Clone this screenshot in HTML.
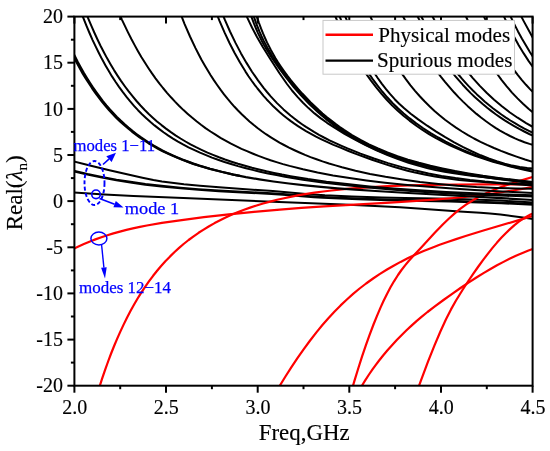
<!DOCTYPE html><html><head><meta charset="utf-8"><style>html,body{margin:0;padding:0;background:#fff;}svg{display:block;}</style></head><body>
<svg width="550" height="451" viewBox="0 0 550 451">
<defs><clipPath id="pc"><rect x="74.4" y="16.6" width="458.2" height="369.1"/></clipPath></defs>
<rect width="550" height="451" fill="#fff"/>
<g clip-path="url(#pc)" fill="none" stroke-linejoin="round">
<path d="M72.4,192.4 L104.4,194.5 L133.4,196.0 L183.4,198.0 L266.4,201.5 L343.4,204.6 L374.9,206.0 L399.9,207.3 L421.4,208.7 L459.4,211.4 L480.4,212.7 L489.9,213.5 L500.4,214.5 L511.4,215.9 L522.9,217.5 L534.4,219.3" stroke="#000" stroke-width="2"/>
<path d="M72.4,170.8 L87.4,174.3 L101.9,177.3 L116.4,180.0 L130.4,182.2 L145.4,184.3 L161.4,186.1 L180.4,188.0 L198.4,189.5 L218.9,190.8 L271.4,193.6 L282.9,194.4 L313.9,196.8 L322.9,197.4 L333.9,197.9 L358.4,198.9 L387.9,199.8 L407.9,200.3 L449.9,201.2 L471.4,201.8 L501.4,202.9 L534.4,204.4" stroke="#000" stroke-width="2.7"/>
<path d="M72.4,161.0 L90.9,165.8 L109.4,170.3 L142.4,177.7 L153.4,180.0 L161.9,181.5 L171.9,182.8 L183.9,184.2 L199.9,185.7 L222.4,187.5 L272.9,191.1 L308.9,194.2 L324.9,195.3 L351.9,196.5 L381.9,197.5 L404.9,198.0 L450.9,198.8 L471.9,199.4 L485.9,199.9 L500.9,200.6 L534.4,202.6" stroke="#000" stroke-width="2"/>
<path d="M72.4,249.4 L77.9,246.7 L83.9,244.0 L89.4,241.7 L95.4,239.4 L101.4,237.3 L107.4,235.3 L113.4,233.4 L119.9,231.6 L126.4,229.9 L132.9,228.4 L139.9,226.9 L146.9,225.5 L161.9,222.9 L179.9,220.3 L203.9,217.2 L228.9,214.3 L253.9,211.8 L279.9,209.6 L301.4,207.9 L323.9,206.4 L389.9,202.7 L412.9,201.2 L434.4,199.7 L453.9,198.0 L464.9,196.9 L475.9,195.7 L486.4,194.4 L496.4,193.0 L506.4,191.5 L515.9,190.0 L525.4,188.3 L534.4,186.5" stroke="#f00" stroke-width="2.2"/>
<path d="M93.6,406.4 L96.1,397.8 L99.1,388.0 L102.1,378.7 L105.1,369.8 L108.1,361.5 L111.1,353.5 L114.1,346.0 L117.1,338.9 L120.1,332.1 L123.6,324.6 L127.1,317.5 L130.6,310.8 L134.1,304.5 L137.6,298.5 L141.1,292.9 L145.1,286.8 L149.1,281.2 L153.1,275.8 L157.1,270.8 L161.1,266.0 L165.6,261.0 L170.1,256.4 L174.6,252.0 L179.1,247.9 L183.6,244.0 L188.6,240.0 L193.6,236.3 L198.6,232.8 L203.6,229.6 L209.1,226.2 L214.6,223.1 L220.6,220.0 L226.1,217.3 L232.1,214.6 L238.1,212.1 L244.1,209.8 L250.1,207.6 L256.6,205.5 L263.1,203.5 L270.1,201.6 L277.1,199.8 L284.1,198.2 L291.6,196.6 L299.1,195.2 L306.6,193.9 L314.6,192.7 L323.1,191.5 L331.6,190.5 L349.1,188.7 L367.6,187.3 L387.6,186.2 L409.6,185.4 L432.6,184.9 L458.6,184.5 L487.6,184.4 L534.6,184.4" stroke="#f00" stroke-width="2.2"/>
<path d="M347.0,406.8 L350.5,394.3 L354.5,380.6 L358.0,369.2 L362.0,356.7 L366.0,344.9 L369.5,335.1 L373.5,324.5 L377.0,315.8 L380.5,307.6 L383.5,301.0 L387.0,293.9 L390.5,287.3 L394.0,281.3 L398.0,275.0 L401.5,270.0 L405.5,264.9 L408.5,261.3 L412.5,256.8 L421.5,247.2 L435.0,232.5 L443.0,224.2 L449.0,218.5 L455.0,213.1 L460.5,208.7 L466.0,204.7 L472.5,200.5 L479.0,196.8 L486.0,193.3 L493.0,190.2 L500.5,187.3 L508.5,184.5 L516.5,181.9 L534.5,176.4" stroke="#f00" stroke-width="2.2"/>
<path d="M273.6,396.3 L279.6,386.0 L285.6,376.2 L291.6,366.8 L297.6,357.8 L303.6,349.3 L310.1,340.5 L316.6,332.1 L322.6,324.8 L328.6,318.0 L334.6,311.5 L340.6,305.4 L346.6,299.7 L353.1,293.9 L359.6,288.5 L366.1,283.5 L373.1,278.5 L379.6,274.1 L386.6,269.8 L393.6,265.7 L400.6,261.9 L408.1,258.1 L415.6,254.6 L423.6,251.1 L432.1,247.7 L439.6,244.8 L447.6,242.0 L456.1,239.1 L465.6,236.0 L482.6,230.8 L519.6,219.9 L534.6,215.3" stroke="#f00" stroke-width="2.2"/>
<path d="M413.0,402.5 L421.0,380.3 L428.0,361.7 L434.5,345.4 L440.5,331.2 L446.0,319.3 L451.0,309.4 L456.0,300.5 L462.5,290.0 L468.0,281.5 L473.0,274.1 L478.0,267.0 L483.0,260.1 L488.0,253.6 L492.5,247.9 L497.0,242.6 L501.5,237.6 L506.0,233.0 L510.0,229.1 L514.5,225.1 L518.5,221.9 L522.5,219.1 L526.5,216.6 L530.5,214.4 L534.5,212.7" stroke="#f00" stroke-width="2.2"/>
<path d="M356.0,396.4 L359.0,390.9 L362.5,384.8 L365.5,379.9 L369.0,374.5 L372.5,369.4 L376.0,364.6 L379.5,360.0 L383.5,355.0 L387.5,350.3 L392.0,345.2 L397.0,339.8 L402.0,334.7 L406.5,330.3 L411.5,325.6 L416.5,321.1 L421.5,316.9 L427.5,312.0 L434.5,306.7 L443.5,300.0 L452.5,293.6 L460.5,288.0 L468.5,282.6 L476.0,277.8 L483.5,273.1 L490.5,269.0 L497.0,265.3 L503.5,261.9 L510.0,258.6 L516.5,255.5 L522.5,252.9 L528.5,250.5 L534.5,248.3" stroke="#f00" stroke-width="2.2"/>
<path d="M72.4,51.2 L77.9,62.2 L80.9,67.7 L83.9,73.0 L86.9,78.0 L89.9,82.8 L92.9,87.4 L96.4,92.4 L99.4,96.5 L102.9,101.1 L106.4,105.4 L109.9,109.5 L113.4,113.3 L116.9,117.0 L120.4,120.4 L124.4,124.1 L128.4,127.6 L132.4,130.9 L136.4,134.0 L140.4,137.0 L144.4,139.7 L148.9,142.6 L153.4,145.4 L157.9,148.0 L162.4,150.4 L167.4,152.9 L172.4,155.2 L177.4,157.4 L182.4,159.5 L187.9,161.6 L193.4,163.6 L199.4,165.6 L209.9,168.8 L221.4,171.8 L233.4,174.6 L245.9,177.1 L259.4,179.4 L273.4,181.5 L288.9,183.5 L305.4,185.4 L320.9,186.9 L337.4,188.3 L355.4,189.6 L375.4,191.0 L408.4,193.0 L492.4,197.7 L534.4,200.1" stroke="#000" stroke-width="2.2"/>
<path d="M71.2,51.8 L76.8,62.8 L82.8,73.6 L85.9,78.6 L92.0,88.0 L95.5,93.0 L102.1,101.8 L105.6,106.1 L109.2,110.2 L116.2,117.7 L119.8,121.1 L123.8,124.7 L127.9,128.2 L131.9,131.5 L140.0,137.6 L148.5,143.2 L153.1,145.9 L157.6,148.5 L162.2,150.9 L167.2,153.3 L172.7,155.8 L182.3,159.8 L193.3,163.9 L199.3,165.8 L209.9,168.9 L221.4,171.8 L233.4,174.6 L239.9,175.9" stroke="#000" stroke-width="2.2"/>
<path d="M75.0,-5.0 L77.5,2.2 L80.5,10.5 L83.5,18.4 L86.5,25.9 L89.5,33.0 L92.5,39.8 L95.5,46.2 L99.0,53.3 L102.0,59.1 L105.5,65.4 L108.5,70.6 L112.0,76.4 L115.5,81.8 L119.0,86.9 L122.5,91.7 L126.5,96.9 L130.0,101.2 L134.0,105.8 L138.0,110.2 L142.0,114.2 L146.0,118.0 L150.5,122.1 L154.5,125.4 L159.0,128.9 L163.5,132.3 L168.0,135.4 L173.0,138.6 L178.0,141.6 L183.0,144.4 L188.5,147.3 L194.0,149.9 L200.0,152.7 L206.0,155.2 L212.0,157.6 L218.0,159.8 L224.5,162.0 L231.0,164.0 L238.0,166.1 L245.0,168.0 L252.5,169.9 L260.0,171.7 L268.0,173.4 L276.5,175.1 L285.0,176.7 L303.0,179.7 L322.5,182.4 L344.5,185.1 L368.5,187.5 L394.0,189.7 L421.0,191.7 L449.5,193.4 L478.0,194.8 L506.5,195.8 L534.5,196.5" stroke="#000" stroke-width="2"/>
<path d="M80.0,-3.2 L85.5,11.6 L88.5,19.1 L91.5,26.2 L94.5,33.0 L97.5,39.5 L100.5,45.7 L104.0,52.5 L107.0,58.1 L110.5,64.2 L114.0,70.1 L117.5,75.6 L121.0,80.9 L125.0,86.5 L128.5,91.2 L132.5,96.2 L136.5,101.0 L140.5,105.5 L144.5,109.7 L148.5,113.7 L152.5,117.4 L157.0,121.4 L161.5,125.1 L166.0,128.6 L170.5,131.9 L175.5,135.3 L180.5,138.5 L185.5,141.5 L190.5,144.3 L196.0,147.2 L201.5,149.8 L207.5,152.6 L213.0,154.9 L219.0,157.3 L225.0,159.5 L231.5,161.7 L238.0,163.8 L245.0,165.8 L252.0,167.8 L259.0,169.5 L266.5,171.3 L274.0,172.9 L282.0,174.6 L290.5,176.2 L308.0,179.1 L326.5,181.7 L347.0,184.1 L369.5,186.4 L393.5,188.5 L419.0,190.3 L446.5,191.9 L475.0,193.3 L504.5,194.4 L534.5,195.2" stroke="#000" stroke-width="2"/>
<path d="M113.0,-1.5 L116.0,5.9 L119.0,13.0 L122.0,19.8 L125.0,26.2 L128.0,32.4 L131.5,39.3 L134.5,44.9 L138.0,51.2 L141.5,57.2 L145.0,62.8 L148.5,68.2 L152.0,73.4 L155.5,78.3 L159.5,83.6 L163.0,88.0 L167.0,92.8 L171.0,97.3 L175.0,101.6 L179.0,105.7 L183.5,110.1 L187.5,113.7 L192.0,117.6 L196.5,121.3 L201.0,124.8 L205.5,128.1 L210.5,131.5 L215.5,134.7 L220.5,137.8 L225.5,140.6 L230.5,143.4 L236.0,146.1 L241.5,148.8 L247.0,151.2 L252.5,153.5 L258.5,155.9 L264.5,158.1 L270.5,160.2 L276.5,162.1 L283.0,164.1 L289.5,165.9 L303.0,169.3 L317.5,172.5 L333.0,175.4 L349.5,178.1 L366.5,180.5 L385.0,182.7 L404.5,184.7 L426.0,186.6 L449.0,188.3 L474.5,189.9 L502.5,191.4 L534.5,193.0" stroke="#000" stroke-width="2"/>
<path d="M174.0,-4.0 L179.0,9.8 L184.5,23.8 L190.0,36.5 L195.5,48.1 L198.5,54.0 L201.5,59.7 L204.5,65.0 L207.5,70.1 L210.5,75.0 L214.0,80.4 L217.0,84.8 L220.5,89.7 L224.0,94.3 L227.5,98.7 L231.0,102.8 L234.5,106.8 L238.0,110.5 L242.0,114.5 L245.5,117.8 L249.5,121.4 L253.5,124.8 L257.5,128.0 L261.5,131.0 L266.0,134.2 L270.5,137.1 L275.0,139.9 L279.5,142.6 L284.0,145.0 L289.0,147.6 L294.0,150.0 L299.5,152.5 L305.0,154.9 L310.5,157.1 L316.5,159.3 L322.5,161.4 L329.0,163.5 L335.5,165.4 L342.0,167.3 L355.5,170.7 L370.0,173.9 L385.5,176.8 L402.5,179.5 L420.0,181.9 L438.5,183.9 L457.5,185.7 L476.5,187.0 L496.0,187.9 L515.5,188.5 L534.5,188.7" stroke="#000" stroke-width="2"/>
<path d="M210.0,-3.9 L214.5,8.3 L219.5,20.8 L224.5,32.4 L229.5,43.0 L234.5,52.8 L240.0,62.6 L245.5,71.6 L248.5,76.2 L251.5,80.5 L254.5,84.6 L257.5,88.5 L263.5,95.8 L266.5,99.2 L270.0,102.9 L273.0,106.0 L276.5,109.3 L280.0,112.5 L283.5,115.4 L287.0,118.2 L290.5,120.9 L294.0,123.4 L298.0,126.1 L302.0,128.7 L306.0,131.1 L311.0,133.9 L316.0,136.6 L321.5,139.3 L327.0,141.9 L333.5,144.8 L340.5,147.7 L348.5,151.0 L356.5,154.1 L372.0,159.8 L386.5,164.6 L393.5,166.8 L400.5,168.8 L407.5,170.7 L414.0,172.3 L424.5,174.6 L435.0,176.6 L446.5,178.3 L459.0,179.9 L470.5,181.0 L483.5,182.1 L534.5,185.6" stroke="#000" stroke-width="2"/>
<path d="M215.5,-3.9 L220.0,8.0 L225.0,20.2 L230.0,31.5 L235.5,42.9 L241.0,53.4 L246.5,62.9 L252.0,71.7 L258.0,80.4 L264.0,88.3 L267.0,92.0 L270.5,96.1 L273.5,99.4 L277.0,103.1 L283.5,109.4 L287.0,112.5 L290.5,115.5 L294.0,118.3 L298.0,121.4 L302.0,124.2 L306.0,126.9 L314.0,131.9 L319.0,134.8 L324.0,137.5 L329.5,140.3 L335.0,142.9 L341.0,145.6 L347.5,148.4 L360.5,153.6 L374.0,158.5 L388.0,163.1 L402.0,167.1 L415.5,170.6 L428.5,173.5 L441.5,175.9 L455.5,178.1 L470.0,180.0 L485.0,181.6 L501.0,182.9 L517.5,183.8 L534.5,184.5" stroke="#000" stroke-width="2"/>
<path d="M239.0,-2.8 L243.0,7.6 L247.5,18.1 L252.0,27.5 L257.0,37.0 L262.5,46.5 L269.5,57.8 L279.5,73.2 L283.5,79.0 L287.0,84.0 L292.0,90.5 L297.5,96.9 L303.0,102.8 L308.5,108.1 L314.5,113.4 L320.5,118.1 L327.0,122.8 L334.5,127.7 L344.5,133.8 L355.0,139.7 L365.5,145.1 L376.5,150.3 L387.5,155.0 L398.0,159.1 L408.5,162.8 L419.0,165.9 L427.0,168.0 L435.5,170.0 L444.5,171.7 L454.0,173.3 L462.5,174.5 L471.5,175.7 L502.5,179.3 L514.0,180.8 L524.5,182.2 L534.5,183.8" stroke="#000" stroke-width="2"/>
<path d="M243.5,-8.4 L247.0,3.7 L250.5,14.3 L254.0,23.7 L256.0,28.5 L258.0,33.1 L262.0,41.2 L264.0,44.9 L266.5,49.2 L271.5,57.2 L278.0,66.6 L282.0,72.1 L286.0,77.4 L290.0,82.5 L293.5,86.8 L297.0,90.9 L301.0,95.4 L305.0,99.6 L309.0,103.7 L313.0,107.6 L317.5,111.8 L321.5,115.3 L326.0,119.1 L330.0,122.3 L334.5,125.7 L339.0,128.9 L343.5,132.0 L351.5,137.0 L360.0,141.8 L369.0,146.4 L378.0,150.5 L387.5,154.3 L397.5,158.0 L408.0,161.4 L419.0,164.5 L430.0,167.3 L442.0,170.0 L454.5,172.4 L468.0,174.7 L482.0,176.8 L497.5,178.9 L514.5,181.0 L534.5,183.1" stroke="#000" stroke-width="2"/>
<path d="M246.0,-10.3 L249.0,1.0 L252.5,12.7 L256.0,22.8 L259.5,31.6 L261.5,36.2 L263.5,40.4 L267.5,48.0 L272.0,55.5 L277.5,63.8 L281.0,68.8 L285.0,74.2 L288.5,78.8 L292.5,83.7 L296.5,88.5 L300.5,93.1 L304.5,97.4 L308.5,101.6 L312.5,105.5 L317.0,109.8 L321.0,113.4 L325.5,117.2 L330.0,120.9 L334.5,124.4 L339.0,127.6 L343.5,130.7 L351.5,135.8 L360.0,140.7 L369.0,145.3 L378.0,149.5 L387.5,153.4 L397.5,157.1 L408.0,160.5 L418.5,163.6 L429.5,166.4 L441.5,169.1 L454.0,171.6 L467.5,174.0 L482.0,176.2 L497.5,178.3 L514.5,180.4 L534.5,182.7" stroke="#000" stroke-width="2"/>
<path d="M249.0,-10.1 L252.0,1.0 L255.5,12.7 L259.0,23.0 L261.0,28.4 L263.0,33.4 L265.0,38.0 L267.0,42.4 L271.0,50.3 L275.5,58.2 L278.0,62.3 L281.0,66.8 L284.0,71.1 L287.5,75.9 L291.0,80.4 L294.5,84.6 L298.5,89.3 L302.5,93.8 L306.5,98.0 L310.5,102.1 L314.5,106.0 L318.5,109.8 L322.5,113.4 L327.0,117.2 L331.0,120.4 L335.5,123.9 L339.5,126.8 L344.0,129.9 L352.0,135.1 L360.5,139.9 L369.0,144.3 L378.0,148.5 L387.5,152.5 L397.5,156.2 L408.0,159.6 L419.0,162.8 L430.5,165.8 L442.5,168.5 L455.0,171.1 L468.5,173.5 L483.0,175.8 L498.5,177.9 L515.5,180.1 L534.5,182.2" stroke="#000" stroke-width="2"/>
<path d="M327.5,-3.0 L331.5,7.3 L335.5,16.9 L339.5,25.9 L343.5,34.4 L348.0,43.4 L352.5,51.8 L357.0,59.6 L361.5,66.8 L366.0,73.7 L371.0,80.7 L376.0,87.2 L381.5,93.9 L386.5,99.5 L392.0,105.2 L397.5,110.4 L403.5,115.7 L409.5,120.6 L416.0,125.5 L422.5,130.0 L429.0,134.1 L436.0,138.2 L443.0,141.9 L450.5,145.6 L458.5,149.2 L466.5,152.5 L475.0,155.7 L484.0,158.8 L493.0,161.7 L502.5,164.4 L512.5,167.1 L523.0,169.6 L534.5,172.1" stroke="#000" stroke-width="2"/>
<path d="M331.7,-4.4 L335.2,5.2 L339.2,15.5 L343.2,25.2 L347.2,34.2 L351.2,42.6 L355.2,50.4 L359.2,57.7 L363.7,65.4 L368.2,72.5 L372.7,79.1 L377.2,85.2 L382.2,91.5 L387.2,97.3 L392.7,103.1 L398.2,108.5 L403.7,113.4 L409.7,118.4 L416.2,123.4 L423.2,128.3 L430.7,133.1 L438.2,137.5 L445.7,141.6 L453.7,145.7 L462.2,149.6 L470.7,153.2 L479.2,156.4 L488.2,159.6 L497.2,162.4 L506.2,164.9 L515.7,167.3 L525.2,169.3 L534.2,171.0" stroke="#000" stroke-width="2"/>
<path d="M337.2,-3.6 L340.7,5.5 L344.7,15.3 L348.7,24.6 L352.7,33.4 L356.7,41.7 L360.7,49.5 L364.7,56.9 L369.2,64.7 L373.2,71.2 L377.7,78.0 L381.7,83.6 L386.2,89.4 L390.2,94.2 L394.7,99.2 L399.2,103.7 L404.2,108.3 L410.7,113.7 L418.2,119.4 L427.2,125.7 L436.2,131.6 L445.2,137.2 L454.2,142.3 L463.2,147.1 L472.2,151.5 L480.7,155.3 L488.7,158.5 L496.7,161.3 L504.7,163.7 L512.2,165.6 L519.7,167.0 L527.2,168.1 L534.2,168.6" stroke="#000" stroke-width="2"/>
<path d="M362.5,-2.6 L366.0,6.1 L369.5,14.4 L373.0,22.3 L377.0,30.8 L381.0,38.8 L385.0,46.3 L389.0,53.5 L393.0,60.2 L397.0,66.5 L401.5,73.2 L406.0,79.4 L410.5,85.3 L415.0,90.8 L420.0,96.5 L424.5,101.3 L429.5,106.3 L434.5,110.9 L439.5,115.2 L445.0,119.7 L450.5,123.8 L456.0,127.6 L462.0,131.5 L468.0,135.1 L474.0,138.5 L480.5,141.8 L487.0,144.9 L494.0,148.0 L501.0,150.9 L508.5,153.8 L516.5,156.6 L525.0,159.5 L534.5,162.5" stroke="#000" stroke-width="2"/>
<path d="M395.0,-0.2 L398.5,7.3 L402.0,14.4 L405.5,21.2 L409.0,27.8 L412.5,34.1 L416.5,40.9 L420.5,47.5 L424.5,53.8 L428.5,59.8 L432.5,65.5 L436.5,71.0 L441.0,76.9 L445.0,81.9 L449.5,87.2 L454.0,92.3 L458.5,97.1 L463.0,101.6 L467.5,105.9 L472.0,110.0 L476.5,113.9 L481.0,117.5 L486.0,121.3 L490.5,124.5 L495.5,127.8 L500.0,130.6 L505.0,133.4 L510.0,136.0 L515.0,138.4 L519.5,140.3 L524.5,142.2 L529.5,143.9 L534.5,145.3" stroke="#000" stroke-width="2"/>
<path d="M409.7,-0.4 L415.7,12.7 L421.7,24.6 L424.7,30.3 L428.2,36.5 L431.2,41.7 L434.7,47.4 L441.2,57.4 L444.7,62.4 L448.2,67.2 L451.7,71.7 L455.2,76.1 L458.7,80.2 L462.7,84.7 L466.7,89.0 L470.7,93.1 L474.7,96.9 L478.7,100.6 L482.7,104.1 L487.2,107.8 L491.2,110.9 L495.7,114.3 L500.2,117.4 L504.7,120.4 L509.2,123.2 L514.2,126.1 L519.2,128.9 L524.2,131.5 L529.2,134.0 L534.2,136.3" stroke="#000" stroke-width="2"/>
<path d="M413.4,-0.0 L419.4,12.7 L425.4,24.5 L431.4,35.3 L434.4,40.4 L437.9,46.1 L444.4,55.9 L447.9,60.9 L451.4,65.7 L454.9,70.2 L458.4,74.5 L461.9,78.7 L465.4,82.6 L468.9,86.4 L472.9,90.5 L476.9,94.4 L480.9,98.1 L484.9,101.7 L488.9,105.0 L492.9,108.2 L497.4,111.6 L501.4,114.5 L505.9,117.6 L510.4,120.5 L514.9,123.2 L519.4,125.8 L524.4,128.6 L529.4,131.1 L534.4,133.5" stroke="#000" stroke-width="2"/>
<path d="M424.6,0.1 L430.1,11.7 L435.6,22.5 L441.1,32.5 L447.1,42.6 L453.1,52.0 L459.6,61.3 L466.1,69.9 L472.6,77.8 L479.6,85.6 L486.6,92.7 L494.1,99.7 L501.6,106.0 L509.6,112.2 L517.6,117.7 L526.1,123.1 L534.6,127.9" stroke="#000" stroke-width="2"/>
<path d="M458.0,-3.6 L462.0,6.8 L466.0,16.5 L470.0,25.7 L474.0,34.2 L478.5,43.1 L483.0,51.4 L487.5,59.1 L492.0,66.3 L496.5,73.0 L501.5,79.8 L506.5,86.1 L512.0,92.6 L517.5,98.4 L523.0,103.8 L528.5,108.8 L534.5,113.7" stroke="#000" stroke-width="2"/>
<path d="M476.0,-2.9 L479.0,4.8 L482.0,12.0 L485.0,18.9 L488.5,26.5 L492.0,33.7 L495.5,40.4 L499.0,46.8 L502.5,52.7 L506.0,58.4 L510.0,64.4 L513.5,69.3 L517.5,74.6 L521.5,79.6 L526.0,84.8 L530.0,89.1 L534.5,93.7" stroke="#000" stroke-width="2"/>
<path d="M496.2,-1.4 L500.7,9.3 L505.2,19.2 L509.7,28.5 L514.2,37.1 L518.7,45.2 L523.7,53.4 L528.7,61.1 L534.2,68.8" stroke="#000" stroke-width="2"/>
<path d="M503.0,-0.5 L506.5,7.6 L510.5,16.3 L514.0,23.6 L518.0,31.4 L522.0,38.7 L526.0,45.6 L530.0,52.2 L534.5,59.1" stroke="#000" stroke-width="2"/>
<path d="M513.2,1.3 L523.7,21.1 L534.2,40.3" stroke="#000" stroke-width="2"/>
</g>
<g><rect x="74.4" y="16.6" width="458.20000000000005" height="369.09999999999997" fill="none" stroke="#000" stroke-width="2"/><line x1="74.4" y1="385.7" x2="74.4" y2="392.7" stroke="#000" stroke-width="2"/><line x1="74.4" y1="16.6" x2="74.4" y2="23.6" stroke="#000" stroke-width="2"/><line x1="120.2" y1="385.7" x2="120.2" y2="389.2" stroke="#000" stroke-width="2"/><line x1="120.2" y1="16.6" x2="120.2" y2="20.1" stroke="#000" stroke-width="2"/><line x1="166.0" y1="385.7" x2="166.0" y2="392.7" stroke="#000" stroke-width="2"/><line x1="166.0" y1="16.6" x2="166.0" y2="23.6" stroke="#000" stroke-width="2"/><line x1="211.9" y1="385.7" x2="211.9" y2="389.2" stroke="#000" stroke-width="2"/><line x1="211.9" y1="16.6" x2="211.9" y2="20.1" stroke="#000" stroke-width="2"/><line x1="257.7" y1="385.7" x2="257.7" y2="392.7" stroke="#000" stroke-width="2"/><line x1="257.7" y1="16.6" x2="257.7" y2="23.6" stroke="#000" stroke-width="2"/><line x1="303.5" y1="385.7" x2="303.5" y2="389.2" stroke="#000" stroke-width="2"/><line x1="303.5" y1="16.6" x2="303.5" y2="20.1" stroke="#000" stroke-width="2"/><line x1="349.3" y1="385.7" x2="349.3" y2="392.7" stroke="#000" stroke-width="2"/><line x1="349.3" y1="16.6" x2="349.3" y2="23.6" stroke="#000" stroke-width="2"/><line x1="395.1" y1="385.7" x2="395.1" y2="389.2" stroke="#000" stroke-width="2"/><line x1="395.1" y1="16.6" x2="395.1" y2="20.1" stroke="#000" stroke-width="2"/><line x1="441.0" y1="385.7" x2="441.0" y2="392.7" stroke="#000" stroke-width="2"/><line x1="441.0" y1="16.6" x2="441.0" y2="23.6" stroke="#000" stroke-width="2"/><line x1="486.8" y1="385.7" x2="486.8" y2="389.2" stroke="#000" stroke-width="2"/><line x1="486.8" y1="16.6" x2="486.8" y2="20.1" stroke="#000" stroke-width="2"/><line x1="532.6" y1="385.7" x2="532.6" y2="392.7" stroke="#000" stroke-width="2"/><line x1="532.6" y1="16.6" x2="532.6" y2="23.6" stroke="#000" stroke-width="2"/><line x1="67.4" y1="16.6" x2="74.4" y2="16.6" stroke="#000" stroke-width="2"/><line x1="70.9" y1="39.7" x2="74.4" y2="39.7" stroke="#000" stroke-width="2"/><line x1="67.4" y1="62.7" x2="74.4" y2="62.7" stroke="#000" stroke-width="2"/><line x1="70.9" y1="85.8" x2="74.4" y2="85.8" stroke="#000" stroke-width="2"/><line x1="67.4" y1="108.9" x2="74.4" y2="108.9" stroke="#000" stroke-width="2"/><line x1="70.9" y1="131.9" x2="74.4" y2="131.9" stroke="#000" stroke-width="2"/><line x1="67.4" y1="155.0" x2="74.4" y2="155.0" stroke="#000" stroke-width="2"/><line x1="70.9" y1="178.1" x2="74.4" y2="178.1" stroke="#000" stroke-width="2"/><line x1="67.4" y1="201.1" x2="74.4" y2="201.1" stroke="#000" stroke-width="2"/><line x1="70.9" y1="224.2" x2="74.4" y2="224.2" stroke="#000" stroke-width="2"/><line x1="67.4" y1="247.3" x2="74.4" y2="247.3" stroke="#000" stroke-width="2"/><line x1="70.9" y1="270.4" x2="74.4" y2="270.4" stroke="#000" stroke-width="2"/><line x1="67.4" y1="293.4" x2="74.4" y2="293.4" stroke="#000" stroke-width="2"/><line x1="70.9" y1="316.5" x2="74.4" y2="316.5" stroke="#000" stroke-width="2"/><line x1="67.4" y1="339.6" x2="74.4" y2="339.6" stroke="#000" stroke-width="2"/><line x1="70.9" y1="362.6" x2="74.4" y2="362.6" stroke="#000" stroke-width="2"/><line x1="67.4" y1="385.7" x2="74.4" y2="385.7" stroke="#000" stroke-width="2"/></g>
<g font-family="Liberation Serif, serif" font-size="20" fill="#000" stroke="#000" stroke-width="0.15"><text x="74.7" y="413.5" text-anchor="middle">2.0</text><text x="166.3" y="413.5" text-anchor="middle">2.5</text><text x="258.0" y="413.5" text-anchor="middle">3.0</text><text x="349.6" y="413.5" text-anchor="middle">3.5</text><text x="441.3" y="413.5" text-anchor="middle">4.0</text><text x="532.9" y="413.5" text-anchor="middle">4.5</text><text x="63" y="23.2" text-anchor="end">20</text><text x="63" y="69.3" text-anchor="end">15</text><text x="63" y="115.5" text-anchor="end">10</text><text x="63" y="161.6" text-anchor="end">5</text><text x="63" y="207.7" text-anchor="end">0</text><text x="63" y="253.9" text-anchor="end">-5</text><text x="63" y="300.0" text-anchor="end">-10</text><text x="63" y="346.2" text-anchor="end">-15</text><text x="63" y="392.3" text-anchor="end">-20</text></g>
<text x="304.2" y="440" text-anchor="middle" font-family="Liberation Serif, serif" font-size="22.9" fill="#000" stroke="#000" stroke-width="0.15">Freq,GHz</text>
<text transform="translate(22.3,230.3) rotate(-90)" font-family="Liberation Serif, serif" font-size="23" fill="#000" stroke="#000" stroke-width="0.15">Real(<tspan font-style="italic">λ</tspan><tspan font-size="15" dy="4.5">n</tspan><tspan dy="-4.5">)</tspan></text>
<rect x="323" y="20.4" width="191.5" height="53.8" fill="#fff" stroke="#c8c8c8" stroke-width="1"/>
<line x1="325.5" y1="34.7" x2="373" y2="34.7" stroke="#f00" stroke-width="2.4"/>
<line x1="325.5" y1="60.6" x2="373" y2="60.6" stroke="#000" stroke-width="2.4"/>
<g font-family="Liberation Serif, serif" font-size="21.1" fill="#000" stroke="#000" stroke-width="0.15"><text x="378.3" y="42.1">Physical modes</text><text x="377" y="66.8">Spurious modes</text></g>
<ellipse cx="94.5" cy="183" rx="10" ry="22" fill="none" stroke="#0000ff" stroke-width="1.9" stroke-dasharray="4,2.3"/><circle cx="96" cy="194.3" r="4.3" fill="none" stroke="#0000ff" stroke-width="1.6"/><ellipse cx="98.9" cy="238.5" rx="8" ry="6.4" fill="none" stroke="#0000ff" stroke-width="1.5"/><line x1="103" y1="164.5" x2="108.9" y2="159.2" stroke="#0000ff" stroke-width="1.6"/><polygon points="116,152.8 111.6,162.1 106.3,156.2" fill="#0000ff"/><line x1="99.5" y1="198.5" x2="114.6" y2="204.2" stroke="#0000ff" stroke-width="1.5"/><polygon points="123.5,207.5 113.4,207.3 115.8,201.0" fill="#0000ff"/><line x1="101.6" y1="245" x2="103.9" y2="267.6" stroke="#0000ff" stroke-width="1.4"/><polygon points="105,278.5 101.1,267.8 106.7,267.3" fill="#0000ff"/><g font-family="Liberation Serif, serif" font-size="17.3" fill="#0000ff" stroke="#0000ff" stroke-width="0.25"><text x="73.5" y="150.9" textLength="81.5" lengthAdjust="spacingAndGlyphs">modes 1−11</text><text x="124.8" y="214.3" textLength="54.3" lengthAdjust="spacingAndGlyphs">mode 1</text><text x="79" y="293.1" textLength="92" lengthAdjust="spacingAndGlyphs">modes 12−14</text></g>
</svg></body></html>
